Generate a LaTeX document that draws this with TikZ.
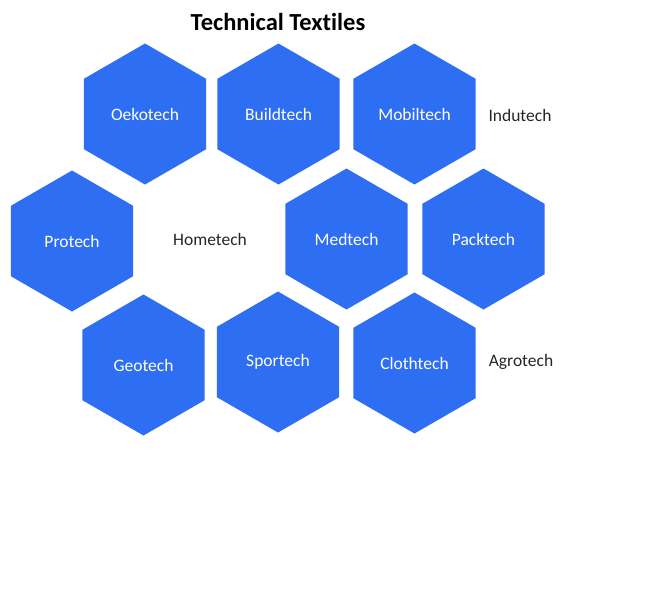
\documentclass[tikz,border=0pt]{standalone}
\usepackage{fontspec}
\setmainfont[Ligatures=NoCommon]{Carlito}
\usepackage{tikz}
\usetikzlibrary{shapes.geometric}
\definecolor{hexblue}{RGB}{46,110,242}
\tikzset{
  hexcell/.style={regular polygon, regular polygon sides=6, shape border rotate=30,
    minimum size=141pt, inner sep=0pt, fill=hexblue, text=white, font=\fontsize{17.5}{20}\selectfont},
  sidelabel/.style={text=black!85, font=\fontsize{17.5}{20}\selectfont}
}
\begin{document}
\begin{tikzpicture}[x=1pt, y=-1pt]
\useasboundingbox (0,0) rectangle (660,605);
\node (title) at (278,22) {\fontsize{24.5}{28}\selectfont\bfseries Technical Textiles};
% hexagon cells
\foreach \name/\x/\y/\txt in {oeko/145/114/Oekotech, build/278.5/114/Buildtech,
  mobil/414.5/114/Mobiltech, pro/72/241/Protech, med/346.5/239/Medtech,
  pack/483.5/239/Packtech, geo/143.5/365/Geotech, sport/278/362/Sportech,
  cloth/414.5/363/Clothtech}{
	\node[hexcell] (\name) at (\x,\y) {\txt};
}
\node[sidelabel] (home) at (210,239) {Hometech};
\node[sidelabel] (indu) at (520,115) {Indutech};
\node[sidelabel] (agro) at (521,362) {Agrotech};
\end{tikzpicture}
\end{document}
